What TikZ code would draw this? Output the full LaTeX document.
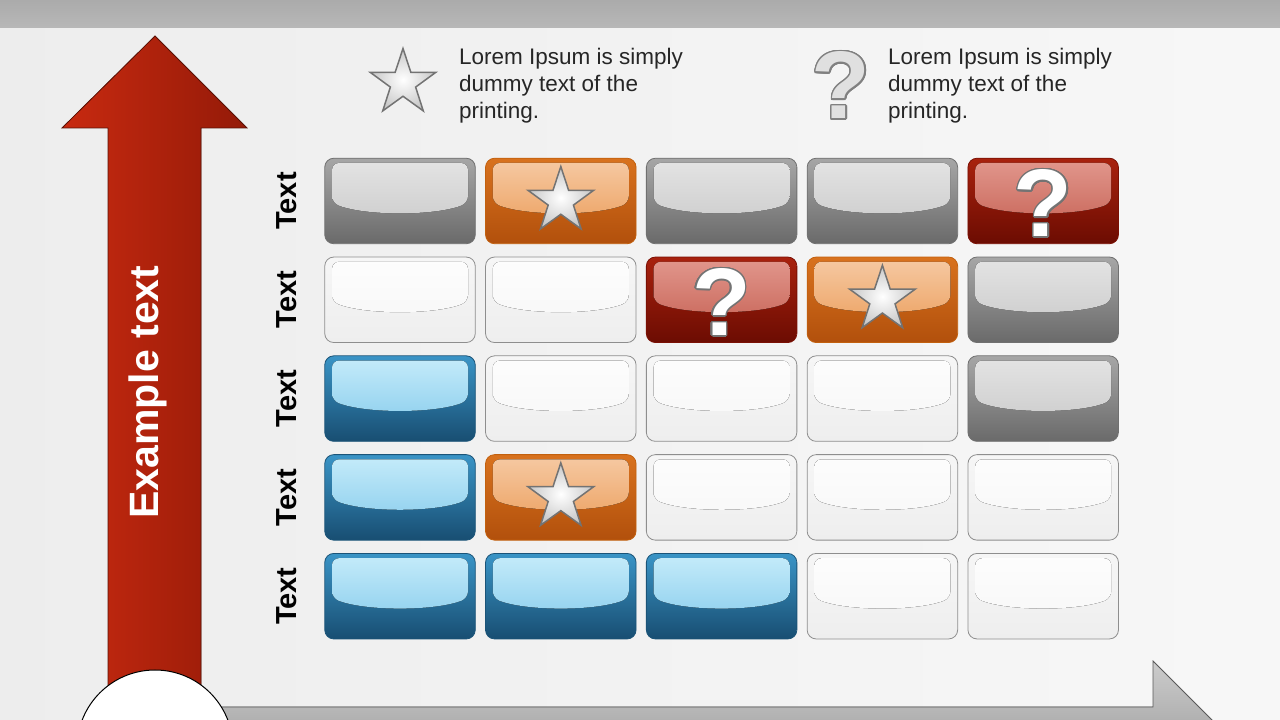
\documentclass[tikz,border=0pt]{standalone}
\usepackage{fontspec}
\setmainfont{Liberation Sans}
\usepackage[copies]{contour}
\contourlength{1.4pt}
\contournumber{24}
\usetikzlibrary{chains, positioning, shapes.geometric}

\definecolor{grayhiA}{HTML}{E4E4E4}
\definecolor{grayhiB}{HTML}{C6C6C6}
\definecolor{graylo}{HTML}{A6A6A6}
\definecolor{graybot}{HTML}{6A6A6A}
\definecolor{grayline}{HTML}{707070}
\definecolor{orangehiA}{HTML}{F6CAA4}
\definecolor{orangehiB}{HTML}{EA9852}
\definecolor{orangelo}{HTML}{D8721E}
\definecolor{orangebot}{HTML}{B2500C}
\definecolor{orangeline}{HTML}{C2600E}
\definecolor{redhiA}{HTML}{E2988E}
\definecolor{redhiB}{HTML}{C25A4C}
\definecolor{redlo}{HTML}{A8220E}
\definecolor{redbot}{HTML}{6C0C02}
\definecolor{redline}{HTML}{7A1004}
\definecolor{bluehiA}{HTML}{C6ECFA}
\definecolor{bluehiB}{HTML}{7EC7EA}
\definecolor{bluelo}{HTML}{3A94C6}
\definecolor{bluebot}{HTML}{184E72}
\definecolor{blueline}{HTML}{1B5478}
\definecolor{emptyhiA}{HTML}{FDFDFD}
\definecolor{emptyhiB}{HTML}{F6F6F6}
\definecolor{emptylo}{HTML}{F6F6F6}
\definecolor{emptybot}{HTML}{EEEEEE}
\definecolor{emptyline}{HTML}{8E8E8E}
\definecolor{arrowred}{HTML}{C82A10}
\definecolor{arrowdark}{HTML}{941A08}

\tikzset{
  tile/.style n args={5}{on chain, shape=rectangle, rounded corners=9pt,
    minimum width=150.5pt, minimum height=85.5pt, inner sep=0pt, draw=#5,
    line width=0.8pt, top color=#3, bottom color=#4,
    path picture={\fill[draw=none, top color=#1, bottom color=#2, rounded corners=7pt]
      (-68,-2) -- (-68,38) -- (68,38) -- (68,-2)
      .. controls (34,-15) and (-34,-15) .. (-68,-2) -- cycle;}},
  gray tile/.style={tile={grayhiA}{grayhiB}{graylo}{graybot}{grayline}},
  orange tile/.style={tile={orangehiA}{orangehiB}{orangelo}{orangebot}{orangeline}},
  red tile/.style={tile={redhiA}{redhiB}{redlo}{redbot}{redline}},
  blue tile/.style={tile={bluehiA}{bluehiB}{bluelo}{bluebot}{blueline}},
  empty tile/.style={tile={emptyhiA}{emptyhiB}{emptylo}{emptybot}{emptyline}},
  tile star/.style={star, star points=5, star point ratio=2.6, minimum size=69pt,
    inner sep=0pt, draw=black!55, line width=1.5pt, inner color=white, outer color=black!22},
  qmark/.style={inner sep=0pt, text=white, font=\fontsize{96}{96}\selectfont\bfseries},
  legend text/.style={anchor=north west, inner sep=0pt, align=left, text=black!85,
    font=\fontsize{22.5}{27}\selectfont},
  row label/.style={rotate=90, inner sep=0pt, font=\fontsize{29}{34}\selectfont\bfseries},
  col label/.style={below=20pt, inner sep=0pt, font=\fontsize{29}{34}\selectfont\bfseries}
}

\begin{document}
\begin{tikzpicture}[x=1pt, y=1pt, node distance=9.5pt]
 \useasboundingbox (0,0) rectangle (1280,720);
 \clip (0,0) rectangle (1280,720);
 \shade[left color=black!7, right color=black!3] (0,0) rectangle (1280,720);
 \shade[top color=black!33, bottom color=black!28] (0,692) rectangle (1280,720);

 \filldraw[draw=black!65, line width=0.8pt, top color=black!20, bottom color=black!36]
  (150,13) -- (1153,13) -- (1153,59) -- (1233,-21) -- (1233,-30) -- (150,-30) -- cycle;
 \filldraw[draw=arrowdark!60!black, line width=0.8pt, left color=arrowred, right color=arrowdark]
  (108,-10) -- (108,592) -- (62,592) -- (155,684) -- (247,592) -- (201,592) -- (201,-10) -- cycle;
 \node[circle, draw=black, line width=1pt, fill=white, minimum size=156pt] (base) at (155,-28) {};
 \node[rotate=90, inner sep=0pt, text=white, font=\fontsize{41}{48}\selectfont\bfseries]
  (ex) at (148,328) {Example text};

 \node[tile star] (k1) at (403,637) {};
 \node[legend text] (l1) at (459,672) {Lorem Ipsum is simply\\dummy text of the\\printing.};
 \node[qmark, text=black!12] (k2) at (841,634) {\contour{black!50}{?}};
 \node[legend text] (l2) at (888,672) {Lorem Ipsum is simply\\dummy text of the\\printing.};

 \begin{scope}[start chain=row1 going right]
  \node[gray tile] (t11) at (400,519) {};
  \node[orange tile] (t12) {};
  \node[gray tile] (t13) {};
  \node[gray tile] (t14) {};
  \node[red tile] (t15) {};
 \end{scope}
 \begin{scope}[start chain=row2 going right]
  \node[empty tile, below=12.5pt of t11] (t21) {};
  \node[empty tile] (t22) {};
  \node[red tile] (t23) {};
  \node[orange tile] (t24) {};
  \node[gray tile] (t25) {};
 \end{scope}
 \begin{scope}[start chain=row3 going right]
  \node[blue tile, below=12.5pt of t21] (t31) {};
  \node[empty tile] (t32) {};
  \node[empty tile] (t33) {};
  \node[empty tile] (t34) {};
  \node[gray tile] (t35) {};
 \end{scope}
 \begin{scope}[start chain=row4 going right]
  \node[blue tile, below=12.5pt of t31] (t41) {};
  \node[orange tile] (t42) {};
  \node[empty tile] (t43) {};
  \node[empty tile] (t44) {};
  \node[empty tile] (t45) {};
 \end{scope}
 \begin{scope}[start chain=row5 going right]
  \node[blue tile, below=12.5pt of t41] (t51) {};
  \node[blue tile] (t52) {};
  \node[blue tile] (t53) {};
  \node[empty tile] (t54) {};
  \node[empty tile] (t55) {};
 \end{scope}

 \node[tile star] (s12) at (t12) {};
 \node[tile star] (s24) at (t24) {};
 \node[tile star] (s42) at (t42) {};
 \node[qmark] (q15) at ([yshift=-3pt]t15) {\contour{black!55}{?}};
 \node[qmark] (q23) at ([yshift=-3pt]t23) {\contour{black!55}{?}};

 \node[row label] (y1) at ([xshift=-38pt]t11.west) {Text};
 \node[row label] (y2) at ([xshift=-38pt]t21.west) {Text};
 \node[row label] (y3) at ([xshift=-38pt]t31.west) {Text};
 \node[row label] (y4) at ([xshift=-38pt]t41.west) {Text};
 \node[row label] (y5) at ([xshift=-38pt]t51.west) {Text};

 \node[col label=of t51] (x1) {Text};
 \node[col label=of t52] (x2) {Text};
 \node[col label=of t53] (x3) {Text};
 \node[col label=of t54] (x4) {Text};
 \node[col label=of t55] (x5) {Text};
\end{tikzpicture}
\end{document}
